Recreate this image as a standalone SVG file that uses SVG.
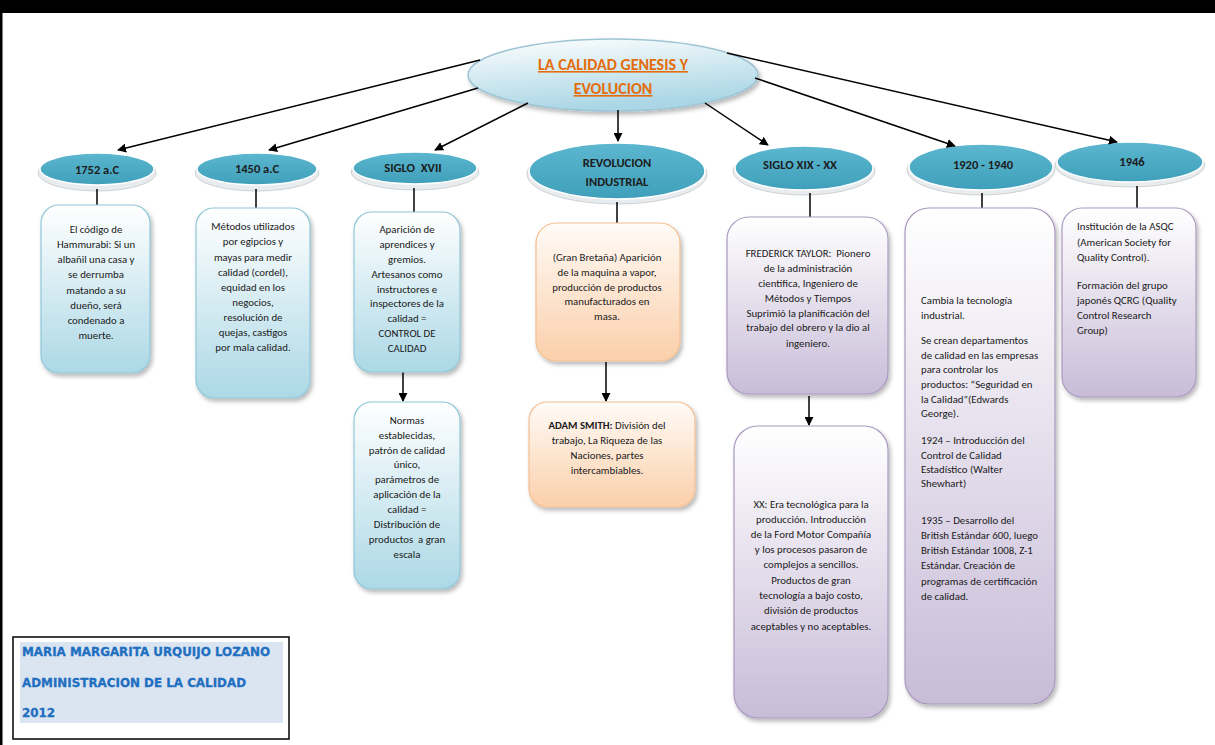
<svg xmlns="http://www.w3.org/2000/svg" width="1215" height="745" viewBox="0 0 1215 745">
<style>
.t{font-family:Carlito,Lato,"Liberation Sans",sans-serif;font-size:10.8px;fill:#1a1a1a}
.c{text-anchor:middle}
.eh{font-family:Carlito,Lato,"Liberation Sans",sans-serif;font-size:12.5px;font-weight:bold;fill:#1c1c1c;text-anchor:middle}
.ttl{font-family:Carlito,Lato,"Liberation Sans",sans-serif;font-size:16px;font-weight:bold;fill:#e46c0a;text-anchor:middle;text-decoration:underline}
.ln{stroke:#000;stroke-width:1.5;fill:none}
.ar{stroke:#000;stroke-width:1.5;fill:none;marker-end:url(#ah)}
.rim{fill:#e9ecee;stroke:#c5c9cc;stroke-width:0.8}
.teal{fill:url(#gTeal);stroke:#ffffff;stroke-width:1.5}
.bb{fill:url(#gBlue);stroke:#8fc7d8;stroke-width:1.2;filter:url(#sh)}
.ob{fill:url(#gOr);stroke:#f2bf93;stroke-width:1.2;filter:url(#sh)}
.pb{fill:url(#gPu);stroke:#a999bf;stroke-width:1.2;filter:url(#sh)}
.au{font-family:"DejaVu Sans",sans-serif;font-size:11.9px;font-weight:bold;fill:#1f6fc1;stroke:#1f6fc1;stroke-width:0.3}
</style>
<defs>
<linearGradient id="gTeal" x1="0" y1="0" x2="0" y2="1"><stop offset="0" stop-color="#5cb7cf"/><stop offset="1" stop-color="#3f9fba"/></linearGradient>
<linearGradient id="gCen" x1="0" y1="0" x2="0.3" y2="1"><stop offset="0" stop-color="#ffffff"/><stop offset="1" stop-color="#aad6e5"/></linearGradient>
<linearGradient id="gBlue" x1="0" y1="0" x2="0" y2="1"><stop offset="0" stop-color="#ffffff"/><stop offset="1" stop-color="#acd8e6"/></linearGradient>
<linearGradient id="gOr" x1="0" y1="0" x2="0" y2="1"><stop offset="0" stop-color="#fffbf7"/><stop offset="1" stop-color="#fbcfaa"/></linearGradient>
<linearGradient id="gPu" x1="0" y1="0" x2="0" y2="1"><stop offset="0" stop-color="#ffffff"/><stop offset="1" stop-color="#c8bcd8"/></linearGradient>
<filter id="sh" x="-10%" y="-10%" width="130%" height="130%"><feDropShadow dx="2" dy="3" stdDeviation="2" flood-color="#000" flood-opacity="0.28"/></filter>
<marker id="ah" viewBox="0 0 10 10" refX="9" refY="5" markerWidth="9" markerHeight="9" markerUnits="userSpaceOnUse" orient="auto"><path d="M0,0 L10,5 L0,10 z" fill="#000"/></marker>
</defs>
<rect x="0" y="0" width="1215" height="745" fill="#ffffff"/>
<rect x="0" y="0" width="1215" height="13" fill="#000"/>
<rect x="0" y="0" width="2.5" height="745" fill="#000"/>

<g id="root">
<ellipse cx="613" cy="75" rx="145" ry="36" fill="url(#gCen)" stroke="#9fc4d4" stroke-width="1.5" filter="url(#sh)"/>
<text class="ttl" x="613" y="70">LA CALIDAD GENESIS Y</text>
<text class="ttl" x="613" y="94">EVOLUCION</text>
</g>

<g id="n1752">
<ellipse class="rim" cx="97" cy="173" rx="59" ry="18"/>
<ellipse class="teal" cx="97" cy="169" rx="57" ry="16"/>
<text class="eh" x="97" y="174">1752 a.C</text>
</g>
<g id="n1450">
<ellipse class="rim" cx="257" cy="173" rx="62" ry="18"/>
<ellipse class="teal" cx="257" cy="169" rx="60" ry="16"/>
<text class="eh" x="257" y="173">1450 a.C</text>
</g>
<g id="nXVII">
<ellipse class="rim" cx="415" cy="172" rx="64" ry="18"/>
<ellipse class="teal" cx="415" cy="168" rx="62" ry="16"/>
<text class="eh" x="413" y="172" xml:space="preserve">SIGLO  XVII</text>
</g>
<g id="nREV">
<ellipse class="rim" cx="617" cy="174" rx="90" ry="30"/>
<ellipse class="teal" cx="617" cy="171" rx="88" ry="28"/>
<text class="eh" x="617" y="167">REVOLUCION</text>
<text class="eh" x="617" y="186">INDUSTRIAL</text>
</g>
<g id="nXIX">
<ellipse class="rim" cx="804" cy="171" rx="71" ry="24"/>
<ellipse class="teal" cx="804" cy="168" rx="69" ry="22"/>
<text class="eh" x="800" y="169">SIGLO XIX - XX</text>
</g>
<g id="n1920">
<ellipse class="rim" cx="981" cy="170" rx="74" ry="25"/>
<ellipse class="teal" cx="981" cy="167" rx="72" ry="23"/>
<text class="eh" x="983" y="169">1920 - 1940</text>
</g>
<g id="n1946">
<ellipse class="rim" cx="1130" cy="165" rx="75" ry="22"/>
<ellipse class="teal" cx="1130" cy="162" rx="73" ry="20"/>
<text class="eh" x="1132" y="166">1946</text>
</g>

<g id="connectors">
<line class="ar" x1="480" y1="60" x2="118" y2="150"/>
<line class="ar" x1="478" y1="88" x2="269" y2="150"/>
<line class="ar" x1="528" y1="103" x2="435" y2="150"/>
<line class="ar" x1="618" y1="110" x2="618" y2="141"/>
<line class="ar" x1="705" y1="103" x2="768" y2="145"/>
<line class="ar" x1="755" y1="78" x2="955" y2="146"/>
<line class="ar" x1="727" y1="53" x2="1117" y2="142"/>
<line class="ln" x1="97" y1="189" x2="97" y2="205"/>
<line class="ln" x1="256" y1="189" x2="256" y2="208"/>
<line class="ln" x1="414" y1="188" x2="414" y2="212"/>
<line class="ln" x1="617" y1="202" x2="617" y2="223"/>
<line class="ln" x1="810" y1="193" x2="810" y2="217"/>
<line class="ln" x1="982" y1="193" x2="982" y2="208"/>
<line class="ln" x1="1137" y1="186" x2="1137" y2="208"/>
<line class="ar" x1="403" y1="372" x2="403" y2="401"/>
<line class="ar" x1="606" y1="362" x2="606" y2="401"/>
<line class="ar" x1="809" y1="396" x2="809" y2="425"/>
</g>

<g id="b1752">
<rect class="bb" x="41" y="205" width="109" height="168" rx="18"/>
<text class="t c"><tspan x="96" y="233">El código de</tspan><tspan x="96" y="248">Hammurabi: Si un</tspan><tspan x="96" y="263">albañil una casa y</tspan><tspan x="96" y="278">se derrumba</tspan><tspan x="96" y="294">matando a su</tspan><tspan x="96" y="309">dueño, será</tspan><tspan x="96" y="324">condenado a</tspan><tspan x="96" y="339">muerte.</tspan></text>
</g>
<g id="b1450">
<rect class="bb" x="196" y="208" width="114" height="190" rx="18"/>
<text class="t c"><tspan x="253" y="230">Métodos utilizados</tspan><tspan x="253" y="245">por egipcios y</tspan><tspan x="253" y="261">mayas para medir</tspan><tspan x="253" y="276">calidad (cordel),</tspan><tspan x="253" y="291">equidad en los</tspan><tspan x="253" y="306">negocios,</tspan><tspan x="253" y="321">resolución de</tspan><tspan x="253" y="336">quejas, castigos</tspan><tspan x="253" y="351">por mala calidad.</tspan></text>
</g>
<g id="bXVII1">
<rect class="bb" x="354" y="212" width="106" height="160" rx="18"/>
<text class="t c"><tspan x="407" y="233">Aparición de</tspan><tspan x="407" y="248">aprendices y</tspan><tspan x="407" y="263">gremios.</tspan><tspan x="407" y="278">Artesanos como</tspan><tspan x="407" y="293">instructores e</tspan><tspan x="407" y="307">inspectores de la</tspan><tspan x="407" y="322">calidad =</tspan><tspan x="407" y="337">CONTROL DE</tspan><tspan x="407" y="352">CALIDAD</tspan></text>
</g>
<g id="bXVII2">
<rect class="bb" x="354" y="402" width="106" height="187" rx="18"/>
<text class="t c" xml:space="preserve"><tspan x="407" y="424">Normas</tspan><tspan x="407" y="439">establecidas,</tspan><tspan x="407" y="454">patrón de calidad</tspan><tspan x="407" y="468">único,</tspan><tspan x="407" y="483">parámetros de</tspan><tspan x="407" y="498">aplicación de la</tspan><tspan x="407" y="513">calidad =</tspan><tspan x="407" y="528">Distribución de</tspan><tspan x="407" y="543">productos  a gran</tspan><tspan x="407" y="558">escala</tspan></text>
</g>
<g id="bREV1">
<rect class="ob" x="536" y="223" width="144" height="138" rx="20"/>
<text class="t c"><tspan x="607" y="261">(Gran Bretaña) Aparición</tspan><tspan x="607" y="276">de la maquina a vapor,</tspan><tspan x="607" y="291">producción de productos</tspan><tspan x="607" y="305">manufacturados en</tspan><tspan x="607" y="320">masa.</tspan></text>
</g>
<g id="bREV2">
<rect class="ob" x="529" y="402" width="166" height="105" rx="18"/>
<text class="t c"><tspan x="607" y="429"><tspan font-weight="bold">ADAM SMITH:</tspan> División del</tspan><tspan x="607" y="444">trabajo, La Riqueza de las</tspan><tspan x="607" y="459">Naciones, partes</tspan><tspan x="607" y="474">intercambiables.</tspan></text>
</g>
<g id="bXIX1">
<rect class="pb" x="727" y="217" width="161" height="177" rx="22"/>
<text class="t c" xml:space="preserve"><tspan x="808" y="257">FREDERICK TAYLOR:  Pionero</tspan><tspan x="808" y="272">de la administración</tspan><tspan x="808" y="287">científica, Ingeniero de</tspan><tspan x="808" y="302">Métodos y Tiempos</tspan><tspan x="808" y="317">Suprimió la planificación del</tspan><tspan x="808" y="331">trabajo del obrero y la dio al</tspan><tspan x="808" y="347">ingeniero.</tspan></text>
</g>
<g id="bXIX2">
<rect class="pb" x="734" y="426" width="154" height="292" rx="24"/>
<text class="t c"><tspan x="811" y="508">XX: Era tecnológica para la</tspan><tspan x="811" y="523">producción. Introducción</tspan><tspan x="811" y="538">de la Ford Motor Compañía</tspan><tspan x="811" y="553">y los procesos pasaron de</tspan><tspan x="811" y="568">complejos a sencillos.</tspan><tspan x="811" y="584">Productos de gran</tspan><tspan x="811" y="599">tecnología a bajo costo,</tspan><tspan x="811" y="614">división de productos</tspan><tspan x="811" y="630">aceptables y no aceptables.</tspan></text>
</g>
<g id="b1920">
<rect class="pb" x="905" y="208" width="150" height="496" rx="24"/>
<text class="t"><tspan x="921" y="304">Cambia la tecnología</tspan><tspan x="921" y="319">industrial.</tspan><tspan x="921" y="344">Se crean departamentos</tspan><tspan x="921" y="359">de calidad en las empresas</tspan><tspan x="921" y="373">para controlar los</tspan><tspan x="921" y="388">productos: “Seguridad en</tspan><tspan x="921" y="403">la Calidad”(Edwards</tspan><tspan x="921" y="417">George).</tspan><tspan x="921" y="444">1924 – Introducción del</tspan><tspan x="921" y="459">Control de Calidad</tspan><tspan x="921" y="473">Estadístico (Walter</tspan><tspan x="921" y="487">Shewhart)</tspan><tspan x="921" y="524">1935 – Desarrollo del</tspan><tspan x="921" y="539">British Estándar 600, luego</tspan><tspan x="921" y="554">British Estándar 1008, Z-1</tspan><tspan x="921" y="569">Estándar. Creación de</tspan><tspan x="921" y="585">programas de certificación</tspan><tspan x="921" y="600">de calidad.</tspan></text>
</g>
<g id="b1946">
<rect class="pb" x="1062" y="208" width="134" height="189" rx="20"/>
<text class="t"><tspan x="1077" y="230">Institución de la ASQC</tspan><tspan x="1077" y="246">(American Society for</tspan><tspan x="1077" y="261">Quality Control).</tspan><tspan x="1077" y="289">Formación del grupo</tspan><tspan x="1077" y="304">japonés QCRG (Quality</tspan><tspan x="1077" y="319">Control Research</tspan><tspan x="1077" y="334">Group)</tspan></text>
</g>

<g id="author">
<rect x="13" y="637" width="276" height="102" fill="#ffffff" stroke="#000" stroke-width="1.5"/>
<rect x="20" y="642" width="263" height="81" fill="#dbe5f1"/>
<text class="au" x="22" y="656">MARIA MARGARITA URQUIJO LOZANO</text>
<text class="au" x="22" y="687">ADMINISTRACION DE LA CALIDAD</text>
<text class="au" x="22" y="717">2012</text>
</g>
</svg>
